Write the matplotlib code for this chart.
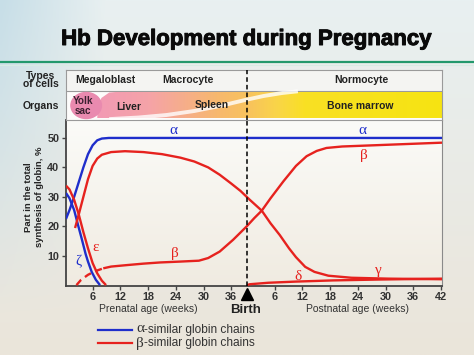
import numpy as np
import matplotlib
matplotlib.use("Agg")
import matplotlib.pyplot as plt
import matplotlib.patheffects as pe
from matplotlib.patches import Rectangle, Ellipse, PathPatch
from matplotlib.path import Path
from matplotlib.colors import LinearSegmentedColormap, to_rgb
from matplotlib.lines import Line2D

# ---------------- data (age axis: weeks since conception; postnatal = BIRTH + weeks) ----
BIRTH = 39.4
prenatal_ticks = [6, 12, 18, 24, 30, 36]
postnatal_ticks = [6, 12, 18, 24, 30, 36, 42]

alpha_x = [0.24, 1, 2, 3, 4, 5, 6, 7, 8, 9.5, 81.6]
alpha_y = [22.5, 25.5, 30, 35, 40, 44.5, 47.5, 49.2, 49.8, 50, 50]

zeta_x = [0.24, 1, 2, 3, 3.6, 4.5, 5, 5.8, 6.7, 7.6]
zeta_y = [31.3, 29.5, 25.5, 19.5, 16, 10.5, 8, 4.5, 1.8, 0]

eps_x = [0.24, 1, 2, 3, 4, 5, 6, 7, 8, 8.9]
eps_y = [33.8, 32.5, 29, 24, 18, 12.5, 7.5, 4, 1.5, 0]

gamma_x = [2.2, 3, 4, 5, 6, 7, 8, 10, 13, 17, 21, 25, 28, 31, 33.5, 36, 38, 40,
           42.6, 44.5, 46.5, 48.5, 50, 52, 54, 57, 62, 70, 81.6]
gamma_y = [19.4, 24, 30, 36, 40.5, 43, 44.3, 45.2, 45.5, 45.2, 44.5, 43.3, 42, 40,
           37.5, 34.5, 32, 29, 25.3, 21, 17, 12.5, 9.5, 6.2, 4.5, 3.2, 2.5, 2.2, 2.0]

beta_early_x = [2.5, 3.5, 5, 6.5, 8.3]
beta_early_y = [0, 1.8, 3.5, 4.7, 5.7]
beta_x = [8.3, 10, 13.4, 17, 20.6, 25, 29, 31, 33.5, 36.4, 39.3, 41, 42.6, 44.5,
          47.3, 50, 52.3, 54.5, 56.6, 60, 66.7, 81.6]
beta_y = [5.7, 6.3, 6.8, 7.3, 7.7, 8.0, 8.3, 9.2, 11.4, 15.4, 19.9, 22.8, 25.3, 29.5,
          35.3, 40.5, 43.8, 45.6, 46.6, 47.1, 47.5, 48.4]

delta_x = [39.4, 40, 44, 50, 58, 68, 81.6]
delta_y = [0, 0.3, 0.8, 1.2, 1.6, 1.9, 2.2]

cell_types = ["Megaloblast", "Macrocyte", "Normocyte"]
organs = ["Yolk\nsac", "Liver", "Spleen", "Bone marrow"]

# ---------------- styling ----------------
W, H = 474, 355
BLUE = "#1f2ecb"
RED = "#e6221e"
SANS = ["Liberation Sans", "DejaVu Sans"]
SERIF = ["Liberation Serif", "DejaVu Serif"]
plt.rcParams["font.family"] = SANS

fig = plt.figure(figsize=(W / 100, H / 100), dpi=100)


def fx(x):
    return x / W


def fy(y):
    return 1 - y / H


# background gradient
bg = fig.add_axes([0, 0, 1, 1], zorder=-10)
bg.set_axis_off()
yy, xx = np.mgrid[0:1:120j, 0:1:160j]
top = np.array(to_rgb("#e8f0f1"))
bot = np.array(to_rgb("#ebe5da"))
img = top * (1 - yy[..., None]) + bot * yy[..., None]
blue = np.array(to_rgb("#bcd8e4"))
wgt = (np.clip(1 - xx / 0.22, 0, 1) * np.clip(1 - yy / 0.9, 0, 1))[..., None] * 0.75
img = img * (1 - wgt) + blue * wgt
bg.imshow(img, extent=[0, 1, 0, 1], aspect="auto", origin="upper")
bg.set_xlim(0, 1)
bg.set_ylim(0, 1)

# title and green rule
fig.text(fx(246), fy(45), "Hb Development during Pregnancy", ha="center", va="baseline",
         fontsize=16, fontweight="bold", color="#0a0a0a",
         path_effects=[pe.withStroke(linewidth=0.7, foreground="#0a0a0a")])
fig.add_artist(Line2D([0, 1], [fy(62.3), fy(62.3)], color="#23986c", lw=1.6))
fig.add_artist(Line2D([0, 1], [fy(65), fy(65)], color="#d8ebe4", lw=0.8))

XL = (0.24, 81.6)

# ---------------- main plot ----------------
ax = fig.add_axes([fx(66), fy(286), fx(376), 166 / H])
ax.set_xlim(*XL)
ax.set_ylim(-0.3, 56.1)
grad = np.linspace(0, 1, 64)[:, None, None]
c_top = np.array(to_rgb("#fbfbf8"))
c_bot = np.array(to_rgb("#f0ebe1"))
ax.imshow(c_top * (1 - grad) + c_bot * grad, extent=[0, 1, 0, 1], transform=ax.transAxes,
          aspect="auto", origin="upper", zorder=0)
ax.set_facecolor("none")

lw = 1.7
ax.plot(alpha_x, alpha_y, color=BLUE, lw=lw, zorder=3, solid_capstyle="butt")
ax.plot(zeta_x, zeta_y, color=BLUE, lw=lw, zorder=3, solid_capstyle="butt")
ax.plot(eps_x, eps_y, color=RED, lw=lw, zorder=3, solid_capstyle="butt")
ax.plot(gamma_x, gamma_y, color=RED, lw=lw, zorder=3, solid_capstyle="butt")
ax.plot(beta_early_x, beta_early_y, color=RED, lw=lw, ls=(0, (3, 2)), zorder=3)
ax.plot(beta_x, beta_y, color=RED, lw=lw, zorder=3, solid_capstyle="butt")
ax.plot(delta_x, delta_y, color=RED, lw=lw, zorder=3, solid_capstyle="butt")

ax.axvline(BIRTH, color="black", lw=1.1, ls=(0, (3, 2)), zorder=4)
ax.plot([BIRTH], [-3.0], marker="^", color="black", markersize=9, clip_on=False, zorder=5)

greek = [("α", 23.4, 52.5, BLUE), ("α", 64.4, 52.7, BLUE),
         ("β", 23.8, 10.8, RED), ("β", 64.6, 44.2, RED),
         ("γ", 67.8, 5.1, RED), ("δ", 50.4, 2.9, RED),
         ("ε", 6.7, 12.8, RED), ("ζ", 2.9, 7.9, BLUE)]
for s, x, y, c in greek:
    ax.text(x, y, s, color=c, fontsize=11, family=SERIF, ha="center", va="center", zorder=6)

ax.set_yticks([10, 20, 30, 40, 50])
ax.set_xticks(prenatal_ticks + [BIRTH + p for p in postnatal_ticks])
ax.set_xticklabels([str(p) for p in prenatal_ticks] + [str(p) for p in postnatal_ticks])
ax.tick_params(axis="both", direction="out", length=3.2, width=1, color="#444",
               labelsize=7.8, labelcolor="#333", pad=1.5)
ax.tick_params(axis="x", pad=1.3)
for lab in ax.get_xticklabels() + ax.get_yticklabels():
    lab.set_fontweight("bold")
ax.spines["top"].set_visible(False)
ax.spines["left"].set_color("#444")
ax.spines["left"].set_linewidth(1.3)
ax.spines["bottom"].set_color("#444")
ax.spines["bottom"].set_linewidth(1.3)
ax.spines["right"].set_color("#8a8a8a")
ax.spines["right"].set_linewidth(0.8)

fig.text(fx(34), fy(197), "Part in the total\nsynthesis of globin, %", rotation=90,
         ha="center", va="center", fontsize=6.8, fontweight="bold", color="#222",
         linespacing=1.15, multialignment="center")
fig.text(fx(148), fy(309.5), "Prenatal age (weeks)", ha="center", va="center",
         fontsize=7.5, color="#333")
fig.text(fx(357), fy(309.5), "Postnatal age (weeks)", ha="center", va="center",
         fontsize=7.5, color="#333")
fig.text(fx(246), fy(310), "Birth", ha="center", va="center", fontsize=9.5,
         fontweight="bold", color="#222")

# ---------------- table (cell types / organs) ----------------
tb = fig.add_axes([fx(66), fy(120), fx(376), 50 / H])
tb.set_xlim(*XL)
tb.set_ylim(0, 1)
tb.set_xticks([])
tb.set_yticks([])
for sp in tb.spines.values():
    sp.set_color("#9a9a9a")
    sp.set_linewidth(0.8)
ROW = 0.59
tb.add_patch(Rectangle((XL[0], ROW), XL[1] - XL[0], 1 - ROW, color="#f4f4f2", zorder=0))
tb.add_patch(Rectangle((XL[0], 0), XL[1] - XL[0], ROW, color="#fdfcfb", zorder=0))
tb.axhline(ROW, color="#9a9a9a", lw=0.8, zorder=1)

# organ colour band
stops_t = [7, 18, 26, 33, 40, 46, 52, 81.6]
stops_c = ["#f29ab4", "#f5a3a8", "#f6ae8a", "#f7b86e", "#f8c35c", "#fad548", "#f9e024", "#f6e412"]
pos = [(t - stops_t[0]) / (stops_t[-1] - stops_t[0]) for t in stops_t]
cmap = LinearSegmentedColormap.from_list("org", list(zip(pos, stops_c)))
b0, b1 = 0.03, 0.56
im = tb.imshow(np.linspace(0, 1, 256)[None, :], cmap=cmap, aspect="auto",
               extent=[stops_t[0], XL[1], b0, b1], zorder=2)
clip = Path([(7.0, b0), (7.1, 0.25), (7.9, 0.44), (9.6, 0.55), (11, b1), (XL[1], b1),
             (XL[1], b0), (7.0, b0)])
cp = PathPatch(clip, transform=tb.transData, facecolor="none", edgecolor="none")
tb.add_patch(cp)
im.set_clip_path(cp)
sep_x = [10, 16, 22, 28, 34, 39, 43, 47, 50]
sep_y = [0.02, 0.05, 0.10, 0.18, 0.29, 0.40, 0.48, 0.54, 0.57]
tb.plot(sep_x, sep_y, color="white", lw=2.8, alpha=0.8, zorder=3)
tb.add_patch(Ellipse((4.6, 0.29), 6.6, 0.52, color="#e98aaf", zorder=3))

tb.axvline(BIRTH, color="black", lw=1.1, ls=(0, (3, 2)), zorder=5)

hdr = dict(ha="center", va="center", fontsize=7.5, fontweight="bold", color="#222")
fig.text(fx(105), fy(80), cell_types[0], **hdr)
fig.text(fx(188), fy(80), cell_types[1], **hdr)
fig.text(fx(361), fy(80), cell_types[2], **hdr)
fig.text(fx(83), fy(106), organs[0], ha="center", va="center", fontsize=7.2,
         fontweight="bold", color="#3a2030", linespacing=0.9)
fig.text(fx(129), fy(106.5), organs[1], **hdr)
fig.text(fx(212), fy(105), organs[2], **hdr)
fig.text(fx(360), fy(106), organs[3], **hdr)
fig.text(fx(41), fy(80), "Types\nof cells", ha="center", va="center", fontsize=7.5,
         fontweight="bold", color="#222", linespacing=0.85)
fig.text(fx(41), fy(106), "Organs", ha="center", va="center", fontsize=7.5,
         fontweight="bold", color="#222")

# ---------------- legend ----------------
fig.add_artist(Line2D([fx(98), fx(132)], [fy(330), fy(330)], color=BLUE, lw=1.6))
fig.add_artist(Line2D([fx(98), fx(132)], [fy(343), fy(343)], color=RED, lw=1.6))
fig.text(fx(140), fy(329), "α", family=SERIF, fontsize=11, ha="center", va="center", color="#333")
fig.text(fx(143.5), fy(330), "-similar globin chains", fontsize=8.6, ha="left", va="center", color="#333")
fig.text(fx(140), fy(343), "β", family=SERIF, fontsize=11, ha="center", va="center", color="#333")
fig.text(fx(143.5), fy(343), "-similar globin chains", fontsize=8.6, ha="left", va="center", color="#333")

fig.savefig("out.png", dpi=100)
